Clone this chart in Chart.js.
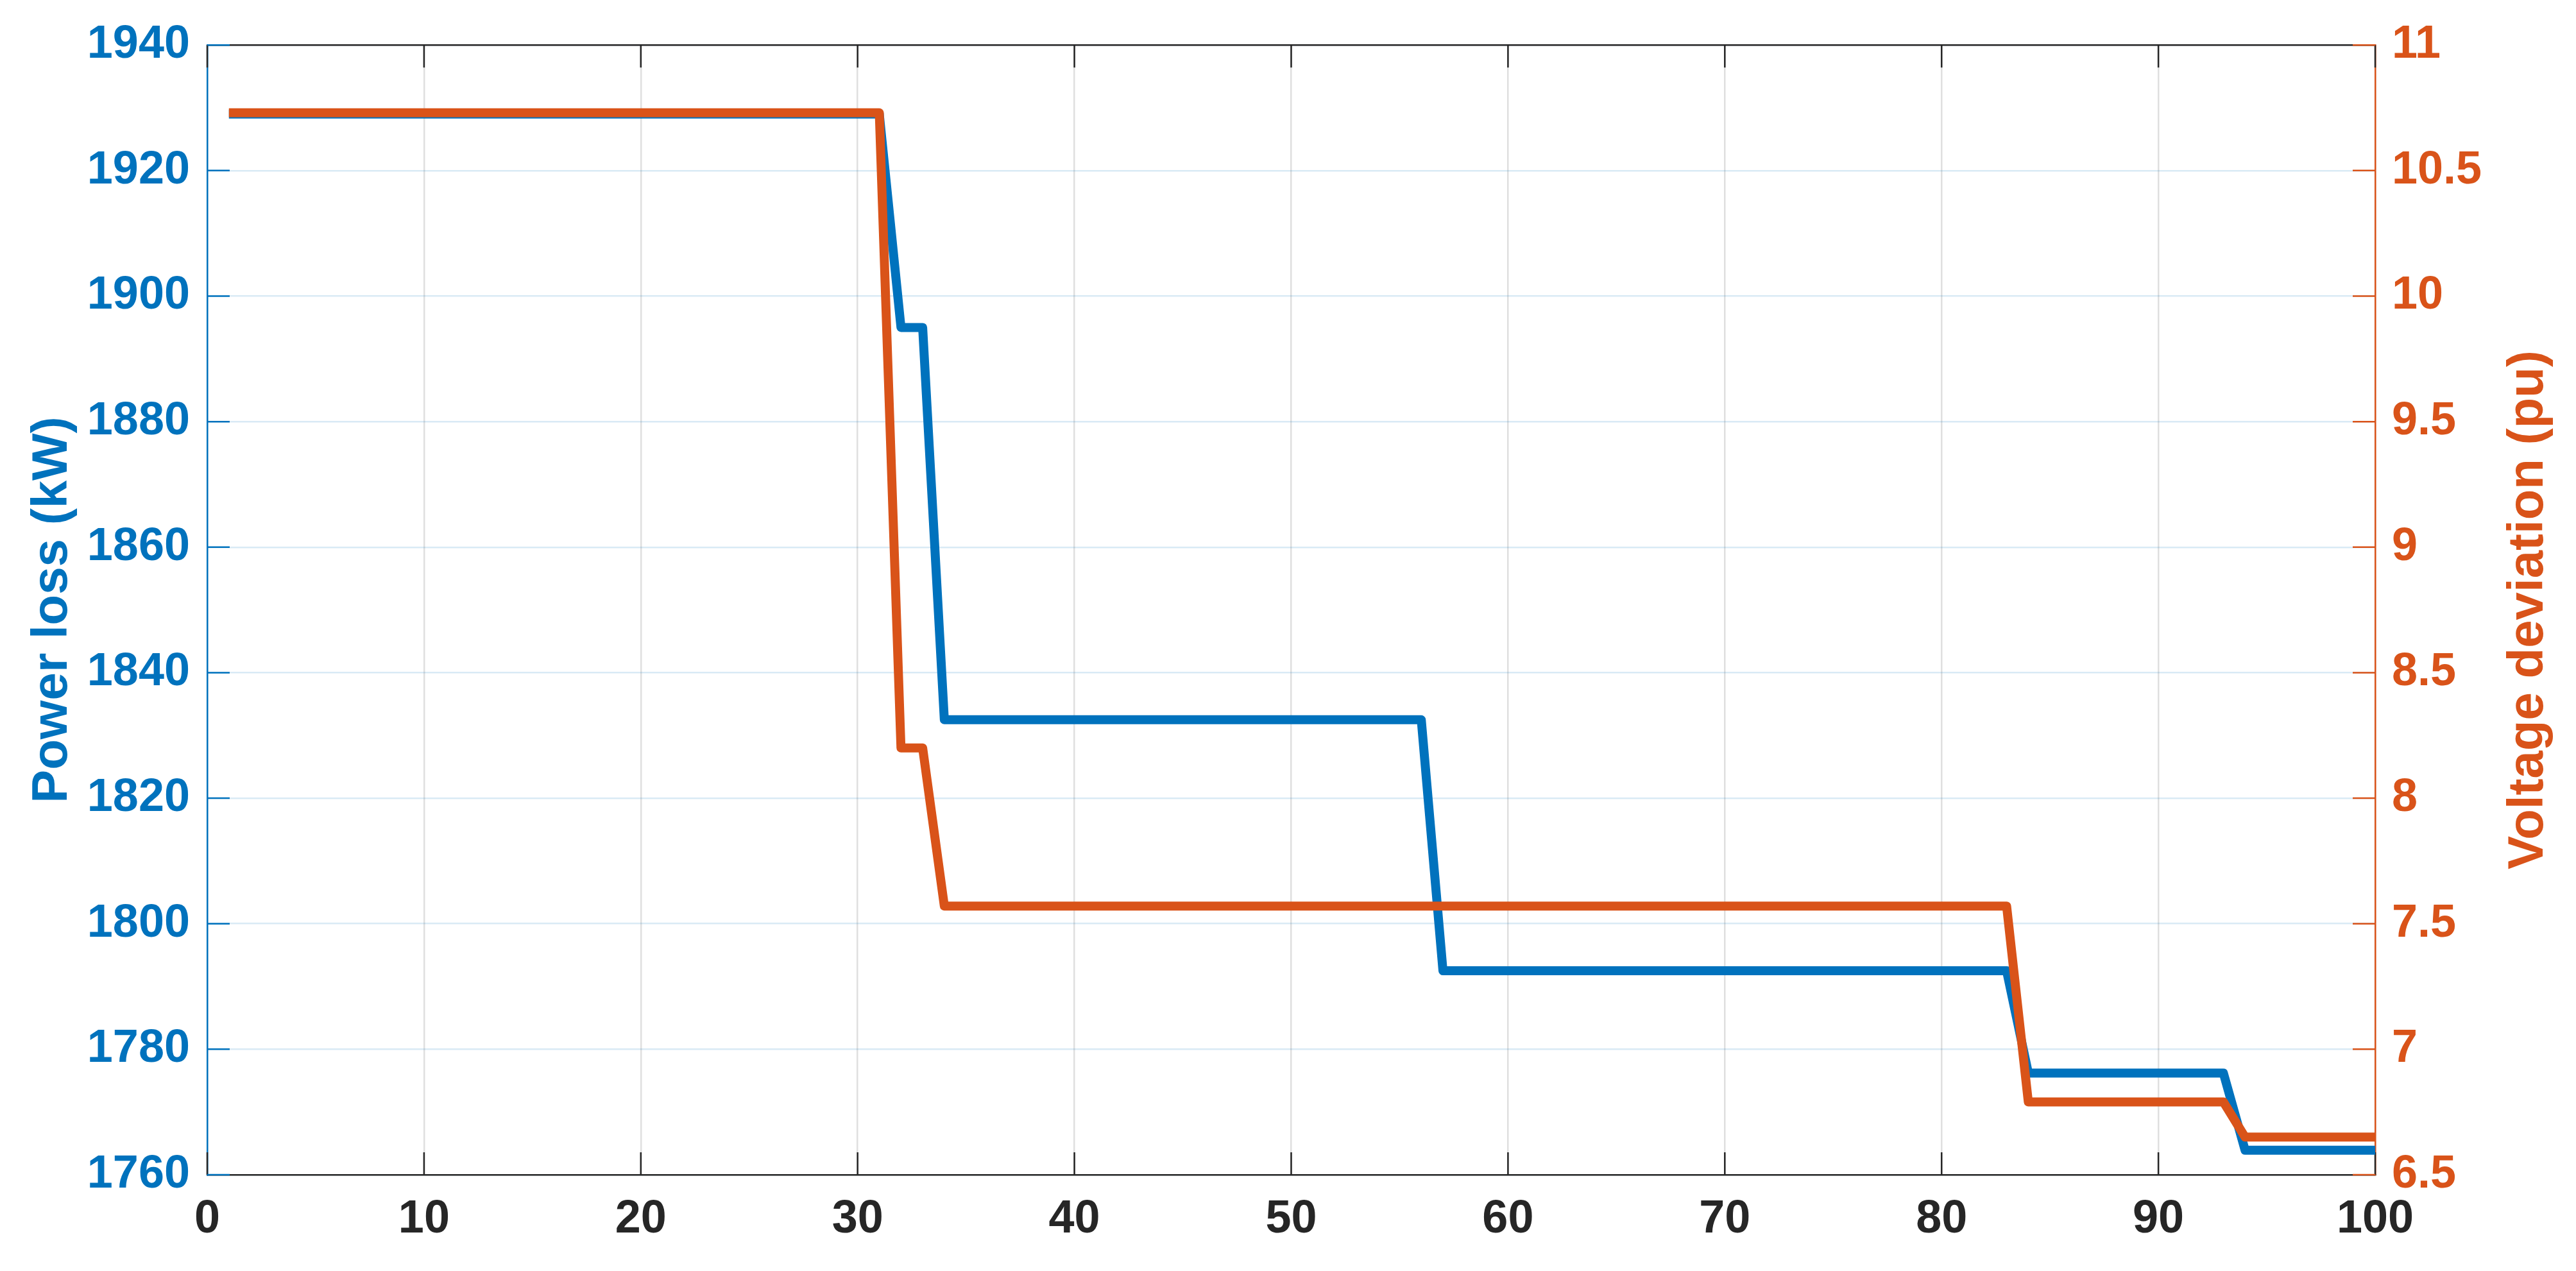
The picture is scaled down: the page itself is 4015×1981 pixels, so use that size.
<!DOCTYPE html>
<html>
<head>
<meta charset="utf-8">
<title>Power loss and voltage deviation</title>
<script src="https://cdn.jsdelivr.net/npm/chart.js@4.4.1/dist/chart.umd.min.js"></script>
<style>
  html, body { margin: 0; padding: 0; background: #fff; }
  #wrap { width: 4015px; height: 1981px; position: relative; }
</style>
</head>
<body>
<div id="wrap"><canvas id="loss-chart"></canvas></div>
<script>
// data (iteration where each level starts / ends)
const iterations = [1, 31, 32, 33, 34, 56, 57, 83, 84, 93, 94, 100];
const powerLoss = [1929.0, 1929.0, 1895.0, 1895.0, 1832.5, 1832.5, 1792.5, 1792.5, 1776.2, 1776.2, 1763.9, 1763.9];
const voltageDev = [10.73, 10.73, 8.2, 8.2, 7.57, 7.57, 7.57, 7.57, 6.79, 6.79, 6.65, 6.65];

const xTicks = [0, 10, 20, 30, 40, 50, 60, 70, 80, 90, 100];
const lossTicks = [1760, 1780, 1800, 1820, 1840, 1860, 1880, 1900, 1920, 1940];
const devTicks = [6.5, 7, 7.5, 8, 8.5, 9, 9.5, 10, 10.5, 11];

const colors = {
  blue: "#0072BD",
  orange: "#D95319",
  dark: "#262626",
  gridX: "rgba(38, 38, 38, 0.15)",
  gridY: "rgba(0, 114, 189, 0.15)",
};
const fontFamily = "'Liberation Sans', Arial, Helvetica, sans-serif";
const tickFont = { family: fontFamily, size: 72, weight: "bold" };
const titleSize = 78;
const tickLen = 35;

// ticks pointing inwards, top border and the two axis titles
const matlabAxes = {
  id: "matlabAxes",
  beforeDatasetsDraw(chart) {
    const { ctx, chartArea: a, scales } = chart;
    ctx.save();
    ctx.lineWidth = 2.5;
    ctx.strokeStyle = colors.dark;
    ctx.beginPath();
    ctx.moveTo(a.left, a.top);
    ctx.lineTo(a.right, a.top);
    ctx.stroke();
    scales.x.ticks.forEach((t) => {
      const px = scales.x.getPixelForValue(t.value);
      ctx.beginPath();
      ctx.moveTo(px, a.bottom);
      ctx.lineTo(px, a.bottom - tickLen);
      ctx.moveTo(px, a.top);
      ctx.lineTo(px, a.top + tickLen);
      ctx.stroke();
    });
    ctx.strokeStyle = colors.blue;
    scales.y.ticks.forEach((t) => {
      const py = scales.y.getPixelForValue(t.value);
      ctx.beginPath();
      ctx.moveTo(a.left, py);
      ctx.lineTo(a.left + tickLen, py);
      ctx.stroke();
    });
    ctx.strokeStyle = colors.orange;
    scales.y1.ticks.forEach((t) => {
      const py = scales.y1.getPixelForValue(t.value);
      ctx.beginPath();
      ctx.moveTo(a.right, py);
      ctx.lineTo(a.right - tickLen, py);
      ctx.stroke();
    });
    ctx.restore();
  },
  afterDraw(chart) {
    const { ctx, chartArea: a } = chart;
    const midY = (a.top + a.bottom) / 2;
    const drawTitle = (text, x, color) => {
      ctx.save();
      ctx.translate(x, midY);
      ctx.rotate(-Math.PI / 2);
      ctx.font = `bold ${titleSize}px ${fontFamily}`;
      ctx.fillStyle = color;
      ctx.textAlign = "center";
      ctx.textBaseline = "alphabetic";
      ctx.fillText(text, 0, 0);
      ctx.restore();
    };
    drawTitle("Power loss (kW)", 104, colors.blue);
    drawTitle("Voltage deviation (pu)", 3963, colors.orange);
  },
};

(() => {
  const ctx = document.getElementById("loss-chart").getContext("2d");

  const config = {
    type: "line",
    data: {
      datasets: [
        {
          label: "Power loss",
          data: iterations.map((it, i) => ({ x: it, y: powerLoss[i] })),
          borderColor: colors.blue,
          borderWidth: 14,
          borderJoinStyle: "round",
          borderCapStyle: "butt",
          pointRadius: 0,
          tension: 0,
          yAxisID: "y",
          order: 2,
        },
        {
          label: "Voltage deviation",
          data: iterations.map((it, i) => ({ x: it, y: voltageDev[i] })),
          borderColor: colors.orange,
          borderWidth: 14,
          borderJoinStyle: "round",
          borderCapStyle: "butt",
          pointRadius: 0,
          tension: 0,
          yAxisID: "y1",
          order: 1,
        },
      ],
    },
    options: {
      responsive: true,
      maintainAspectRatio: false,
      devicePixelRatio: 1,
      animation: false,
      layout: { padding: { top: 57, left: 0, right: 0, bottom: 0 } },
      plugins: {
        legend: { display: false },
        tooltip: { enabled: false },
      },
      scales: {
        x: {
          type: "linear",
          position: "bottom",
          min: 0,
          max: 100,
          afterBuildTicks: (scale) => {
            scale.ticks = xTicks.map((v) => ({ value: v }));
          },
          ticks: {
            color: colors.dark,
            font: tickFont,
            padding: 27,
            maxRotation: 0,
            autoSkip: false,
            callback: (v) => String(v),
          },
          grid: { color: colors.gridX, lineWidth: 2.5, drawTicks: false },
          border: { display: true, color: colors.dark, width: 2.5 },
          afterFit: (scale) => {
            scale.height = 150;
          },
        },
        y: {
          type: "linear",
          position: "left",
          min: 1760,
          max: 1940,
          afterBuildTicks: (scale) => {
            scale.ticks = lossTicks.map((v) => ({ value: v }));
          },
          ticks: {
            color: colors.blue,
            font: tickFont,
            padding: 27,
            autoSkip: false,
            callback: (v) => String(v),
          },
          grid: { color: colors.gridY, lineWidth: 2.5, drawTicks: false },
          border: { display: true, color: colors.blue, width: 2.5 },
          afterFit: (scale) => {
            scale.width = 323;
          },
        },
        y1: {
          type: "linear",
          position: "right",
          min: 6.5,
          max: 11,
          afterBuildTicks: (scale) => {
            scale.ticks = devTicks.map((v) => ({ value: v }));
          },
          ticks: {
            color: colors.orange,
            font: tickFont,
            padding: 26,
            autoSkip: false,
            callback: (v) => String(v),
          },
          grid: { drawOnChartArea: false, drawTicks: false },
          border: { display: true, color: colors.orange, width: 2.5 },
          afterFit: (scale) => {
            scale.width = 313;
          },
        },
      },
    },
    plugins: [matlabAxes],
  };

  const lossChart = new Chart(ctx, config);
})();
</script>
</body>
</html>
